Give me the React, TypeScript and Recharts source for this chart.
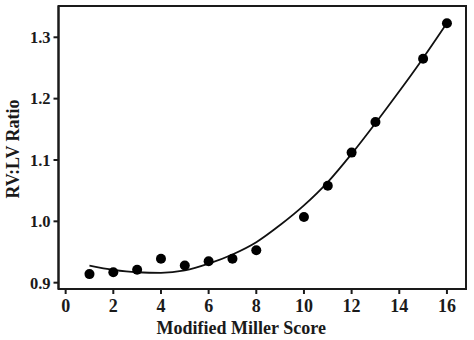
import React from 'react';
import { ComposedChart, XAxis, YAxis, Scatter, Line, ReferenceArea } from 'recharts';

const scoreX = [1, 2, 3, 4, 5, 6, 7, 8, 10, 11, 12, 13, 15, 16];
const ratioY = [0.914, 0.917, 0.921, 0.939, 0.928, 0.935, 0.939, 0.953, 1.007, 1.058, 1.112, 1.162, 1.265, 1.323];
const fitX = [1, 2, 3, 4, 5, 6, 7, 8, 9, 10, 11, 12, 13, 14, 15, 16];
const fitY = [0.928, 0.921, 0.917, 0.916, 0.92, 0.931, 0.946, 0.966, 0.994, 1.026, 1.064, 1.11, 1.16, 1.212, 1.266, 1.323];
const xTicks = [0, 2, 4, 6, 8, 10, 12, 14, 16];
const yTicks = [0.9, 1.0, 1.1, 1.2, 1.3];
const xLabel = 'Modified Miller Score';
const yLabel = 'RV:LV Ratio';

const points = scoreX.map((x, i) => ({ x, y: ratioY[i] }));
const fit = fitX.map((x, i) => ({ x, y: fitY[i] }));

const X_DOMAIN: [number, number] = [-0.3, 16.8];
const Y_DOMAIN: [number, number] = [0.8897, 1.351];
const INK = '#1a1a1a';
const FONT = "'Liberation Serif', 'Times New Roman', serif";

const xTickStyle = { fill: INK, fontSize: 18, fontWeight: 'bold' as const, fontFamily: FONT };
const yTickStyle = { fill: INK, fontSize: 16.5, fontWeight: 'bold' as const, fontFamily: FONT };

const renderXLabel = (props: any) => {
  const vb = props && props.viewBox ? props.viewBox : { x: 58.5, y: 289, width: 407.5, height: 44 };
  const cx = vb.x + vb.width / 2 - 21;
  const baseline = vb.y + 45;
  return (
    <text x={cx} y={baseline} textAnchor="middle" fill={INK}
      style={{ fontSize: 18, fontWeight: 'bold', fontFamily: FONT }}>
      {xLabel}
    </text>
  );
};

const renderYLabel = (props: any) => {
  const vb = props && props.viewBox ? props.viewBox : { x: 0, y: 6, width: 58.5, height: 283 };
  const cx = vb.x + 12.5;
  const cy = vb.y + vb.height / 2 + 1.5;
  return (
    <text x={cx} y={cy} transform={`rotate(-90 ${cx} ${cy})`} textAnchor="middle" dominantBaseline="central"
      fill={INK} style={{ fontSize: 18, fontWeight: 'bold', fontFamily: FONT }}>
      {yLabel}
    </text>
  );
};

export default function App() {
  return (
    <div style={{ position: 'absolute', left: 0, top: 0, width: 474, height: 340, background: '#fff' }}>
      <ComposedChart width={474} height={340} margin={{ top: 6, right: 8, left: 0, bottom: 7 }}>
        <XAxis
          type="number"
          dataKey="x"
          domain={X_DOMAIN}
          ticks={xTicks}
          interval={0}
          allowDataOverflow
          height={44}
          tickSize={5}
          tickMargin={5}
          axisLine={{ stroke: INK, strokeWidth: 2 }}
          tickLine={{ stroke: INK, strokeWidth: 2 }}
          tick={xTickStyle}
          label={renderXLabel}
        />
        <YAxis
          type="number"
          dataKey="y"
          domain={Y_DOMAIN}
          ticks={yTicks}
          interval={0}
          allowDataOverflow
          width={58.5}
          tickSize={5}
          tickMargin={3}
          tickFormatter={(v: number) => v.toFixed(1)}
          axisLine={{ stroke: INK, strokeWidth: 2 }}
          tickLine={{ stroke: INK, strokeWidth: 2 }}
          tick={yTickStyle}
          label={renderYLabel}
        />
        <ReferenceArea x1={X_DOMAIN[0]} x2={X_DOMAIN[1]} y1={Y_DOMAIN[0]} y2={Y_DOMAIN[1]}
          fill="none" fillOpacity={0} stroke={INK} strokeWidth={2} ifOverflow="visible" />
        <Line data={fit} dataKey="y" type="monotone" stroke="#111" strokeWidth={1.8} dot={false}
          activeDot={false} isAnimationActive={false} />
        <Scatter data={points} dataKey="y" fill="#000" isAnimationActive={false}
          shape={(p: any) => <circle cx={p.cx} cy={p.cy} r={5} fill="#000" />} />
      </ComposedChart>
    </div>
  );
}
